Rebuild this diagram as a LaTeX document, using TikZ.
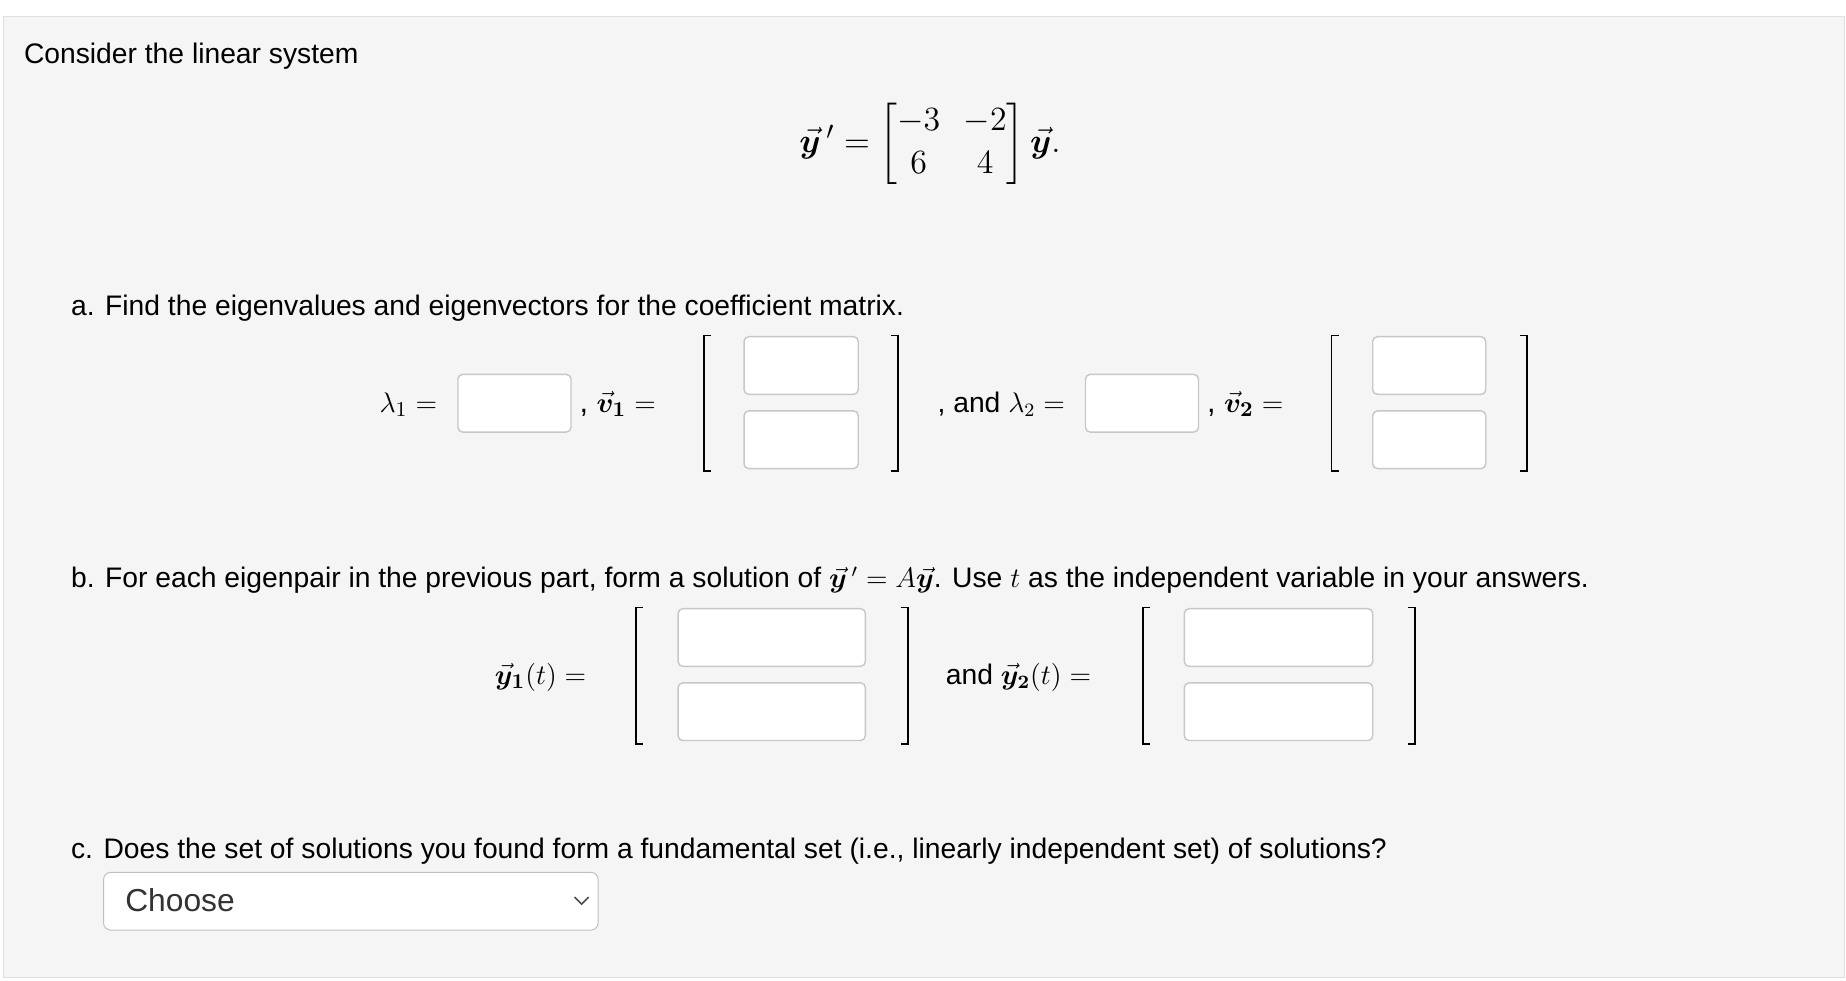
\documentclass[tikz,border=0pt]{standalone}
\usepackage{amsmath,bm}
\usepackage{fontspec}
\setmainfont{Liberation Sans}
\newcommand{\vy}{\vec{\bm y}}
\newcommand{\vv}{\vec{\bm v}}
\begin{document}
\begin{tikzpicture}[x=0.5pt,y=-0.5pt,font=\fontsize{12}{14}\selectfont,
  ibox/.style={draw=black!22,fill=white,rounded corners=2pt,line width=0.6pt},
  txt/.style={anchor=base west,inner sep=0},
  brk/.style={line width=0.8pt}]
\useasboundingbox (0,0) rectangle (1568,833);
\fill[white] (0,0) rectangle (1568,833);
\draw[fill=black!4,draw=black!12] (3,14) rectangle (1567,830);
\node[txt] (t0) at (20,54) {Consider the linear system};
\node[font=\fontsize{15}{18}\selectfont] (eq) at (790,122) {$\vy\,' = \begin{bmatrix}-3 & -2\\ 6 & 4\end{bmatrix}\vy.$};
\node[txt] (ta) at (60,268) {a. Find the eigenvalues and eigenvectors for the coefficient matrix.};
% row a
\node[txt,font=\fontsize{13}{15}\selectfont] (l1) at (322,350) {$\lambda_1 =$};
\draw[ibox] (389,318) rectangle (485,367);
\node[txt,font=\fontsize{13}{15}\selectfont] (v1) at (492,350) {, $\vv_{\bm 1} =$};
\draw[brk] (604,285)--(598,285)--(598,400)--(604,400);
\draw[brk] (757,285)--(763,285)--(763,400)--(757,400);
\draw[ibox] (632,286) rectangle (729,335);
\draw[ibox] (632,349) rectangle (729,398);
\node[txt] (l2) at (796,350) {, and $\lambda_2 =$};
\draw[ibox] (922,318) rectangle (1018,367);
\node[txt,font=\fontsize{13}{15}\selectfont] (v2) at (1025,350) {, $\vv_{\bm 2} =$};
\draw[brk] (1137,285)--(1131,285)--(1131,400)--(1137,400);
\draw[brk] (1291,285)--(1297,285)--(1297,400)--(1291,400);
\draw[ibox] (1166,286) rectangle (1262,335);
\draw[ibox] (1166,349) rectangle (1262,398);
% b
\node[txt] (tb) at (60,499) {b. For each eigenpair in the previous part, form a solution of $\vy\,' = A\vy$. Use $t$ as the independent variable in your answers.};
\node[txt,font=\fontsize{13}{15}\selectfont] (y1) at (420,581) {$\vy_{\bm 1}(t) =$};
\draw[brk] (546,516)--(540,516)--(540,632)--(546,632);
\draw[brk] (765,516)--(771,516)--(771,632)--(765,632);
\draw[ibox] (576,517) rectangle (735,566);
\draw[ibox] (576,580) rectangle (735,629);
\node[txt] (y2) at (803,581) {and $\vy_{\bm 2}(t) =$};
\draw[brk] (977,516)--(971,516)--(971,632)--(977,632);
\draw[brk] (1196,516)--(1202,516)--(1202,632)--(1196,632);
\draw[ibox] (1006,517) rectangle (1166,566);
\draw[ibox] (1006,580) rectangle (1166,629);
% c
\node[txt] (tc) at (60,729) {c. Does the set of solutions you found form a fundamental set (i.e., linearly independent set) of solutions?};
\draw[draw=black!25,fill=white,rounded corners=3pt] (88,741) rectangle (508,790);
\node[txt,font=\fontsize{13.5}{15}\selectfont,text=black!80] (ch) at (106,774) {Choose};
\draw[black!70,line width=0.7pt] (488,762)--(494,768)--(500,762);
\end{tikzpicture}
\end{document}
